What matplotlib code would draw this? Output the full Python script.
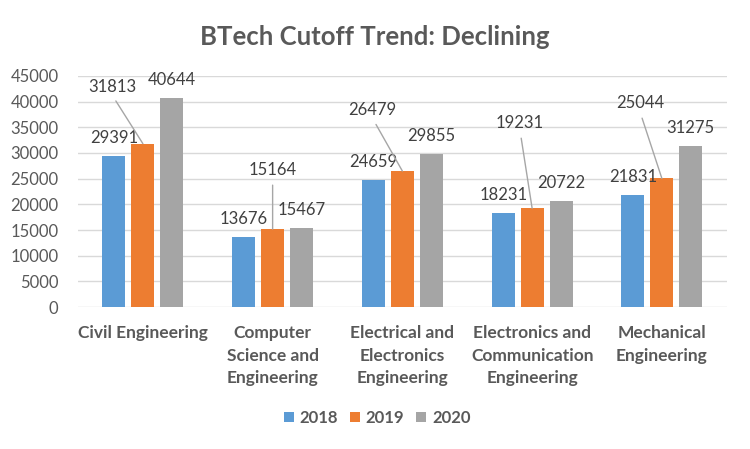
import numpy as np
import matplotlib.pyplot as plt

plt.rcParams['font.family'] = ['Lato', 'DejaVu Sans']

# data
categories = ['Civil Engineering', 'Computer\nScience and\nEngineering',
              'Electrical and\nElectronics\nEngineering',
              'Electronics and\nCommunication\nEngineering',
              'Mechanical\nEngineering']
years = ['2018', '2019', '2020']
y2018 = [29391, 13676, 24659, 18231, 21831]
y2019 = [31813, 15164, 26479, 19231, 25044]
y2020 = [40644, 15467, 29855, 20722, 31275]
yticks = [0, 5000, 10000, 15000, 20000, 25000, 30000, 35000, 40000, 45000]

# label offsets (pixels) for the 2019 labels with leader lines
offs_2019 = [(-31, 57), (0, 59), (-30, 61), (-12, 85), (-22, 75)]

colors = ['#5b9bd5', '#ed7d31', '#a5a5a5']
txt = '#595959'

fig = plt.figure(figsize=(7.5, 4.49), dpi=100)
ax = fig.add_axes([0.104, 0.316, 0.865, 0.515])

x = np.arange(len(categories))
w = 0.177
step = 0.223
series = [y2018, y2019, y2020]
for i, (vals, c, yr) in enumerate(zip(series, colors, years)):
    ax.bar(x + (i - 1) * step, vals, w, color=c, label=yr, zorder=3)

# labels
for j in range(len(categories)):
    for i in (0, 2):
        ax.annotate(str(series[i][j]), (x[j] + (i - 1) * step, series[i][j]),
                    xytext=(0, 18), textcoords='offset pixels',
                    ha='center', va='center', fontsize=12, color='#404040', zorder=5)
    dx, dy = offs_2019[j]
    ax.annotate(str(y2019[j]), (x[j], y2019[j]), xytext=(dx, dy),
                textcoords='offset pixels', ha='center', va='center',
                fontsize=12, color='#404040', zorder=5,
                arrowprops=dict(arrowstyle='-', color='#a6a6a6', lw=1,
                                relpos=(0.5, 0), shrinkA=3, shrinkB=0))

ax.set_xlim(-0.5, len(categories) - 0.5)
ax.set_ylim(0, 45000)
ax.set_yticks(yticks)
ax.set_yticklabels([str(t) for t in yticks])
ax.set_xticks(x)
ax.set_xticklabels(categories, fontweight='bold', linespacing=1.5)
ax.tick_params(axis='y', length=0, labelsize=12, labelcolor=txt, pad=14)
ax.tick_params(axis='x', length=0, labelsize=12.5, labelcolor=txt, pad=13)
ax.grid(axis='y', color='#d9d9d9', lw=1, zorder=0)
for s in ax.spines.values():
    s.set_visible(False)

fig.suptitle('BTech Cutoff Trend: Declining', x=0.5, y=0.945, fontsize=18.5,
             fontweight='bold', color=txt)

fig.legend(loc='center', bbox_to_anchor=(0.503, 0.069), ncol=3, frameon=False,
           handlelength=0.6, handleheight=0.6, handletextpad=0.35, columnspacing=0.7,
           prop={'weight': 'bold', 'size': 12}, labelcolor=txt)

fig.savefig('out.png', dpi=100)
